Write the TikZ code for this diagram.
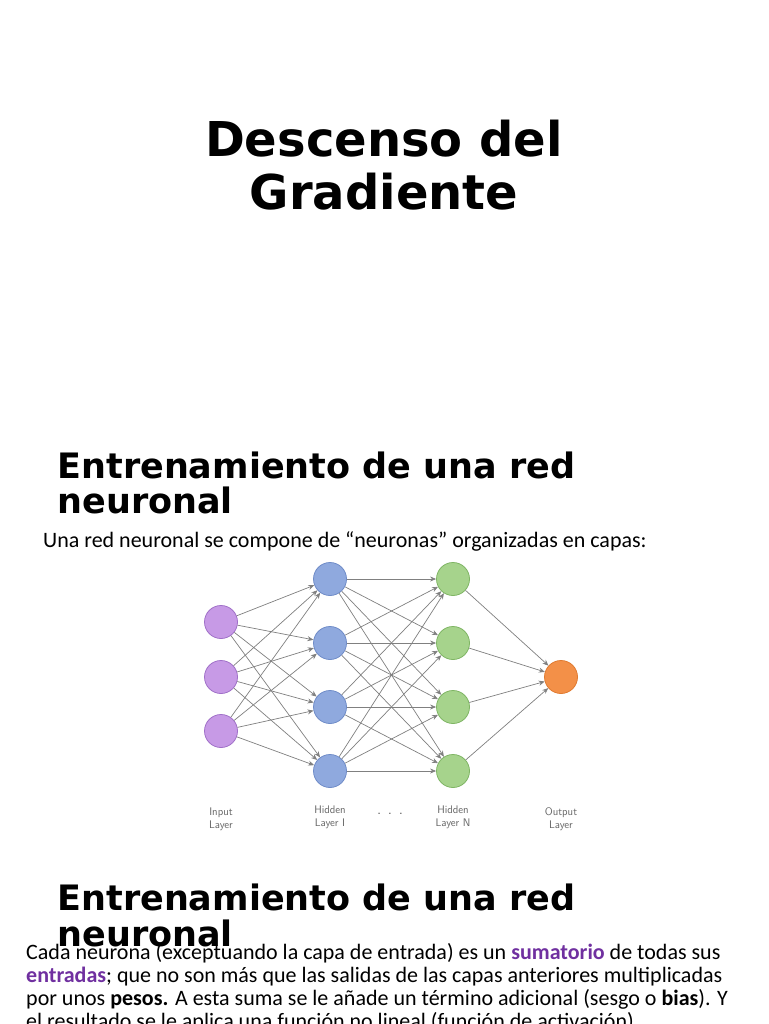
\documentclass[tikz,border=0pt]{standalone}
\usepackage{fontspec}
\setmainfont{Carlito}
\newfontfamily\dvs{DejaVu Sans}
\usetikzlibrary{arrows.meta}
\definecolor{pin}{HTML}{C79AE6}\definecolor{pinD}{HTML}{A070C8}
\definecolor{hb}{HTML}{8FA9DE}\definecolor{hbD}{HTML}{6F8CC8}
\definecolor{hg}{HTML}{A6D38C}\definecolor{hgD}{HTML}{7FB564}
\definecolor{og}{HTML}{F39048}\definecolor{ogD}{HTML}{E07A30}
\definecolor{pur}{HTML}{7030A0}
\begin{document}
\begin{tikzpicture}[x=1pt,y=-1pt,
 neu/.style={circle,minimum size=33pt,inner sep=0pt,line width=0.8pt},
 conn/.style={draw=gray,line width=0.7pt,-{Stealth[length=6pt,width=5pt]}},
 lab/.style={font=\fontsize{11}{13}\selectfont\sffamily,text=gray!80!black,align=center},
 head/.style={anchor=west,font=\dvs\bfseries\fontsize{35}{38}\selectfont}]
\useasboundingbox (0,0) rectangle (768,1024);
\clip (0,0) rectangle (768,1024);
\fill[white] (0,0) rectangle (768,1024);
\node[font=\dvs\bfseries\fontsize{48}{53}\selectfont,align=center] (title) at (384,165) {Descenso del\\Gradiente};
\node[head] (h1a) at (54,465) {Entrenamiento de una red};
\node[head] (h1b) at (54,500) {neuronal};
\node[anchor=west,font=\fontsize{22}{26}\selectfont,inner sep=0pt] (t1) at (43,541) {Una red neuronal se compone de “neuronas” organizadas en capas:};
% network
\foreach \i/\y in {1/622,2/677,3/731} \node[neu,fill=pin,draw=pinD] (i\i) at (221,\y) {};
\foreach \i/\y in {1/579,2/643,3/707,4/771} {
  \node[neu,fill=hb,draw=hbD] (a\i) at (330,\y) {};
  \node[neu,fill=hg,draw=hgD] (b\i) at (453,\y) {};}
\node[neu,fill=og,draw=ogD] (o) at (561,677) {};
\foreach \i in {1,2,3} \foreach \j in {1,2,3,4} \draw[conn] (i\i) -- (a\j);
\foreach \i in {1,2,3,4} \foreach \j in {1,2,3,4} \draw[conn] (a\i) -- (b\j);
\foreach \i in {1,2,3,4} \draw[conn] (b\i) -- (o);
\node[lab] (l1) at (221,819) {Input\\Layer};
\node[lab] (l2) at (330,817) {Hidden\\Layer I};
\node[lab] (l3) at (453,817) {Hidden\\Layer N};
\node[lab] (l4) at (561,819) {Output\\Layer};
\node[font=\fontsize{16}{16}\selectfont\sffamily,text=gray!80!black] (dots) at (390,814) {. . .};
\node[head] (h2a) at (54,897) {Entrenamiento de una red};
\node[head] (h2b) at (54,933) {neuronal};
\node[anchor=north west,align=left,font=\fontsize{22}{23}\selectfont,inner sep=0pt] (t2) at (26,943)
{Cada neurona (exceptuando la capa de entrada) es un \textcolor{pur}{\textbf{sumatorio}} de todas sus\\
\textcolor{pur}{\textbf{entradas}}; que no son más que las salidas de las capas anteriores multiplicadas\\
por unos \textbf{pesos.} A esta suma se le añade un término adicional (sesgo o \textbf{bias}). Y\\
el resultado se le aplica una función no lineal (función de activación).};
\end{tikzpicture}
\end{document}
